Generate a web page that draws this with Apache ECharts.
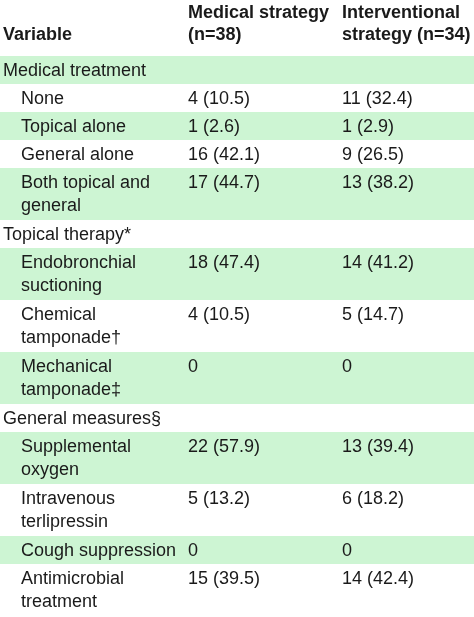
<!DOCTYPE html>
<html>
<head>
<meta charset="utf-8">
<script src="https://cdn.jsdelivr.net/npm/echarts@6/dist/echarts.min.js"></script>
<style>html,body{margin:0;padding:0;background:#fff}#main{width:474px;height:617px}</style>
</head>
<body>
<div id="main"></div>
<script>
// 表格数据
var headers = ['Variable', 'Medical strategy\n(n=38)', 'Interventional\nstrategy (n=34)'];
var labels = ['Medical treatment', 'None', 'Topical alone', 'General alone', 'Both topical and\ngeneral',
    'Topical therapy*', 'Endobronchial\nsuctioning', 'Chemical\ntamponade†', 'Mechanical\ntamponade‡',
    'General measures§', 'Supplemental\noxygen', 'Intravenous\nterlipressin', 'Cough suppression', 'Antimicrobial\ntreatment'];
var medical = ['', '4 (10.5)', '1 (2.6)', '16 (42.1)', '17 (44.7)', '', '18 (47.4)', '4 (10.5)', '0',
    '', '22 (57.9)', '5 (13.2)', '0', '15 (39.5)'];
var interventional = ['', '11 (32.4)', '1 (2.9)', '9 (26.5)', '13 (38.2)', '', '14 (41.2)', '5 (14.7)', '0',
    '', '13 (39.4)', '6 (18.2)', '0', '14 (42.4)'];
var groupRows = [0, 5, 9];

var chart = echarts.init(document.getElementById('main'));
var font = '"Liberation Sans", Arial, sans-serif';
var colX = [3, 188, 342];
var els = [];
// 表头
headers.forEach(function (h, i) {
    els.push({
        type: 'text', x: colX[i], y: i === 0 ? 24 : 2,
        style: { text: h, font: 'bold 18px ' + font, fill: '#1a1a1a', lineHeight: 22 }
    });
});
var y = 56;
labels.forEach(function (lab, r) {
    var lines = lab.split('\n').length;
    var h = lines > 1 ? 52 : 28;
    if (r === labels.length - 1) h = 617 - y;
    els.push({
        type: 'rect', shape: { x: 0, y: y, width: 474, height: h }, silent: true,
        style: { fill: r % 2 === 0 ? '#cdf5d3' : '#fff' }
    });
    var isGroup = groupRows.indexOf(r) >= 0;
    var cells = [lab, medical[r], interventional[r]];
    cells.forEach(function (c, i) {
        if (!c) return;
        els.push({
            type: 'text', x: i === 0 ? (isGroup ? 3 : 21) : colX[i], y: y + 4,
            style: { text: c, font: '18px ' + font, fill: '#1a1a1a', lineHeight: 23 }
        });
    });
    y += h;
});
chart.setOption({ graphic: { elements: els } });
</script>
</body>
</html>
